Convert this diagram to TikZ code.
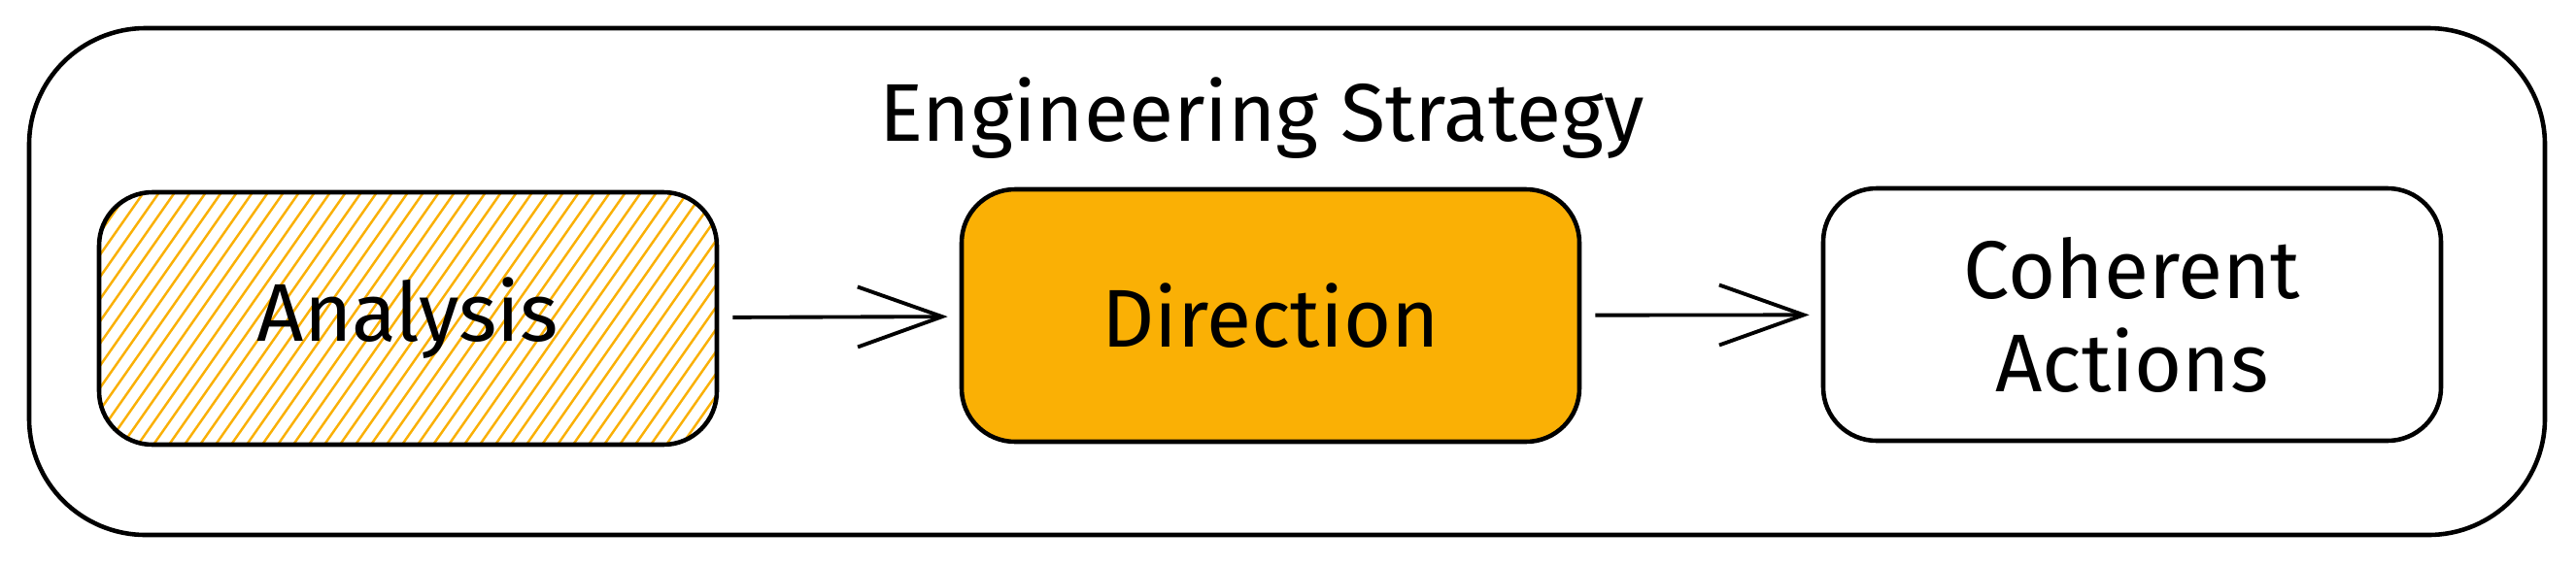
\documentclass[tikz,border=0pt]{standalone}
\usepackage{fontspec}
\setmainfont{Fira Sans}
\usetikzlibrary{arrows.meta}
\definecolor{sketchorange}{HTML}{FAB005}

\begin{document}
\begin{tikzpicture}[
  stagebox/.style={draw=black, line width=1.3pt, rounded corners=0.55cm,
    minimum width=6.36cm, minimum height=2.6cm, align=center,
    font=\fontsize{24}{27.3}\selectfont},
  hatched/.style={path picture={
    \foreach \i in {0,...,60}
      \draw [color=sketchorange, line width=0.7pt]
        ([xshift={\i*0.16cm-2cm}]path picture bounding box.south west) -- ++(55:3.4);
  }},
  flow/.style={line width=1.1pt, -{Straight Barb[length=0.87cm, width=0.62cm]},
    shorten <=0.14cm, shorten >=0.12cm}
]
  \useasboundingbox (0,0) rectangle (26.52,5.82);

  \draw [line width=1.3pt, rounded corners=1.2cm] (0.30,0.31) rectangle (26.20,5.53);
  \node [anchor=base, font=\fontsize{24}{28}\selectfont] (title) at (12.99,4.37) {Engineering Strategy};

  \node [stagebox, hatched] (analysis) at (4.20,2.54) {Analysis};
  \node [stagebox, fill=sketchorange] (direction) at (13.08,2.57) {Direction};
  \node [stagebox] (actions) at (21.95,2.58) {Coherent\\Actions};

  \draw [flow] (analysis) -- (direction);
  \draw [flow] (direction) -- (actions);

  %\draw [ultra thick, color=red] (title.south) -- (direction.north);
\end{tikzpicture}
\end{document}
